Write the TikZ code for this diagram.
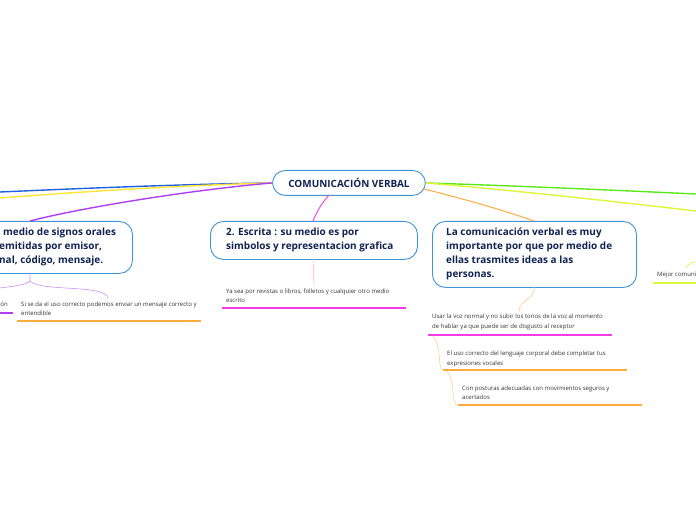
\documentclass[tikz,border=0pt]{standalone}
\usepackage{fontspec}
\setmainfont{Open Sans}
\usepackage{tikz}
\definecolor{boxblue}{HTML}{3D94D6}
\definecolor{navy}{HTML}{0F2352}
\definecolor{txtgray}{HTML}{333333}
\definecolor{lblue}{HTML}{1F5FE0}
\definecolor{lyellow}{HTML}{FFE433}
\definecolor{lpurple}{HTML}{B13DF2}
\definecolor{lpink}{HTML}{F53BE6}
\definecolor{lorange}{HTML}{FFAB3D}
\definecolor{lgreen}{HTML}{5CE81A}
\definecolor{llime}{HTML}{DDF53B}
\begin{document}
\begin{tikzpicture}[
  x=1bp, y=-1bp,
  topic/.style={
    draw=boxblue, fill=white, line width=0.9pt, rounded corners=13bp,
    inner sep=0pt, anchor=north west
  },
  topictxt/.style={
    font=\fontsize{10}{14}\selectfont\bfseries, text=navy,
    align=left, anchor=west, inner sep=0pt
  },
  leaf/.style={
    font=\fontsize{6.05}{9.4}\selectfont, text=txtgray,
    align=left, anchor=west, inner sep=0pt
  },
  branch/.style={line width=1.4pt},
  twig/.style={line width=0.6pt}
]
  \useasboundingbox (0,0) rectangle (696,520);
  \clip (0,0) rectangle (696,520);

  % boxes
  \node[topic, minimum width=153bp, minimum height=25bp] (central) at (272,170){};
  \node[topic, minimum width=207bp, minimum height=38bp] (escrita) at (210,221){};
  \node[topic, minimum width=204bp, minimum height=66bp] (importante) at (432,221){};
  \node[topic, minimum width=172bp, minimum height=52bp] (oral) at (-40,221){};

  \coordinate (oralup) at (30,221);
  \coordinate (oraldown) at (30,273);
  \coordinate (oralfork) at (30,281);
  \coordinate (escup) at (313,221);
  \coordinate (escdown) at (313,259);
  \coordinate (impup) at (534,221);
  \coordinate (impdown) at (534,287);

  % main branches
  \coordinate (leftblue) at (0,192);
  \coordinate (leftyellow) at (0,198);
  \coordinate (rightgreen) at (696,194);
  \coordinate (rightlime) at (696,211);
  \coordinate (centralpink) at (329,195);
  \coordinate (centralorange) at (424,189);
  \draw[branch, lblue] (leftblue) .. controls (90,188) and (190,184) .. (central.west);
  \draw[branch, lyellow] (leftyellow) .. controls (90,191) and (190,185) .. (central.west);
  \draw[branch, lpurple] (oralup) .. controls (80,208) and (190,190) .. (central.west);
  \draw[branch, lpink, line width=0.9pt] (escup) .. controls (319,206) and (325,200) .. (centralpink);
  \draw[branch, lorange, line width=1pt] (centralorange) .. controls (460,198) and (500,209) .. (impup);
  \draw[branch, lgreen] (central.east) .. controls (520,186) and (610,190) .. (rightgreen);
  \draw[branch, llime] (central.east) .. controls (520,191) and (610,201) .. (rightlime);

  % box texts
  \node[font=\fontsize{10}{11}\selectfont\bfseries, text=navy, inner sep=0pt] (centraltxt) at (central.center){COMUNICACIÓN VERBAL};
  \node[topictxt] (escritatxt) at (226,240){2. Escrita : su medio es por\\simbolos y representacion grafica};
  \node[topictxt] (importantetxt) at (446,254){La comunicación verbal es muy\\importante por que por medio de\\ellas trasmites ideas a las\\personas.};
  \node[topictxt] (oraltxt) at (-1,247){\hspace*{4bp}medio de signos orales\\emitidas por emisor,\\nal, código, mensaje.};

  % leaves
  \node[leaf] (revistas) at (226,296){Ya sea por revistas o libros, folletos y cualquier otro medio\\escrito};
  \node[leaf] (voz) at (432,322){Usar la voz normal y no subir los tonos de la voz al momento\\de hablar ya que puede ser de disgusto al receptor};
  \node[leaf] (corporal) at (447,359){El uso correcto del lenguaje corporal  debe completar tus\\expresiones vocales};
  \node[leaf] (posturas) at (462,393){Con posturas adecuadas con movimientos seguros y\\acertados};
  \node[leaf] (correcto) at (21,309){Si se da el uso correcto podemos enviar un mensaje correcto y\\entendible};
  \node[leaf, anchor=east] (cortado) at (8,304){ón};
  \node[leaf] (mejor) at (657,275){Mejor comuni};

  % underlines
  \coordinate (revistasa) at (222,308);
  \coordinate (revistasb) at (406,308);
  \coordinate (voza) at (428,335);
  \coordinate (vozb) at (612,335);
  \coordinate (corporala) at (443,370);
  \coordinate (corporalb) at (627,370);
  \coordinate (posturasa) at (458,405);
  \coordinate (posturasb) at (642,405);
  \coordinate (correctoa) at (17,321);
  \coordinate (correctob) at (201,321);
  \coordinate (cortadoa) at (0,313);
  \coordinate (cortadob) at (13,313);
  \coordinate (mejora) at (653,283);
  \coordinate (mejorb) at (696,283);
  \draw[branch, lpink] (revistasa)--(revistasb);
  \draw[branch, lpink] (voza)--(vozb);
  \draw[branch, lorange] (corporala)--(corporalb);
  \draw[branch, lorange] (posturasa)--(posturasb);
  \draw[branch, lorange] (correctoa)--(correctob);
  \draw[branch, lpurple] (cortadoa)--(cortadob);
  \draw[branch, llime] (mejora)--(mejorb);

  % thin links
  \coordinate (revistastop) at (314,285);
  \coordinate (vozend) at (519,312);
  \coordinate (correctoend) at (108,298);
  \coordinate (cortadoend) at (0,288);
  \coordinate (mejorend) at (696,262);
  \coordinate (mejorstart) at (686,268);
  \coordinate (vozstem) at (433,336);
  \coordinate (corporalstem) at (447,371);
  \draw[twig, lpink!45] (escdown)--(revistastop);
  \draw[twig, lorange!60] (impdown) .. controls (535,302) and (519,298) .. (vozend);
  \draw[twig, lorange!60] (vozstem) .. controls (442,345) and (437,368) .. (corporala);
  \draw[twig, lorange!60] (corporalstem) .. controls (456,380) and (450,404) .. (posturasa);
  \draw[twig, lpurple!60] (oraldown)--(oralfork) .. controls (40,292) and (105,284) .. (correctoend);
  \draw[twig, lpurple!60] (oralfork) .. controls (25,285) and (15,286) .. (cortadoend);
  \draw[twig, llime] (mejorstart) .. controls (688,264) and (692,262) .. (mejorend);
\end{tikzpicture}
\end{document}
